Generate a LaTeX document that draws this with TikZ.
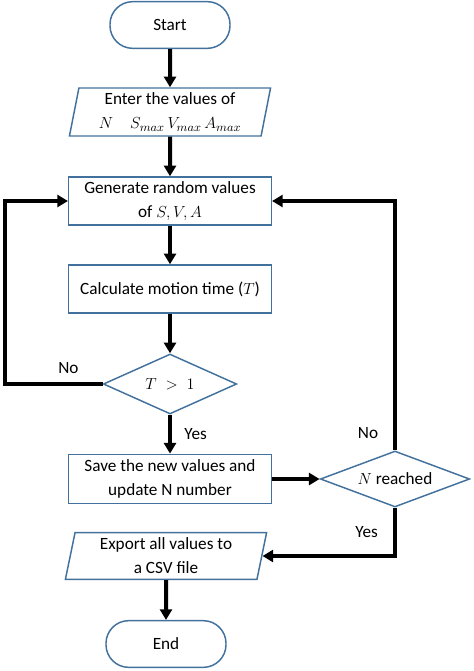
\documentclass[tikz,border=0pt]{standalone}
\usepackage{fontspec}
\setmainfont{Carlito}
\usetikzlibrary{shapes.geometric,arrows.meta}
\definecolor{boxblue}{RGB}{65,113,156}

\begin{document}
\begin{tikzpicture}[x=0.75pt,y=-0.75pt,font=\fontsize{12.9}{18}\selectfont]% 1 unit = 1px
\useasboundingbox (0,0) rectangle (474,671);
\tikzstyle{every node}=[align=center,text=black]
\tikzstyle{term}=[draw=boxblue,line width=1.1pt,rectangle,rounded corners=17pt,minimum width=90pt,minimum height=35pt]
\tikzstyle{io}=[draw=boxblue,line width=1.1pt,trapezium,trapezium left angle=80,trapezium right angle=100,trapezium stretches=true,minimum width=151pt,minimum height=36pt,inner sep=2pt]
\tikzstyle{proc}=[draw=boxblue,line width=1.1pt,rectangle,minimum width=152pt,minimum height=36pt,inner sep=2pt]
\tikzstyle{dec}=[draw=boxblue,line width=1.1pt,diamond,aspect=2.4,inner sep=0pt]
\tikzstyle{flow}=[line width=3pt,-{Triangle[length=8pt,width=9pt]}]

% main column
\node[term] (start) at (170,25) {Start};
\node[io] (input) at (170,112) {Enter the values of\\$N\quad S_{max}\,V_{max}\,A_{max}$};
\node[proc] (gen) at (170,201) {Generate random values\\of $S,V,A$};
\node[proc] (calc) at (170,289) {Calculate motion time ($T$)};
\node[dec,minimum width=100pt,minimum height=45pt] (cond) at (170,384) {$T\;>\;1$};
\node[proc,minimum height=37pt] (save) at (170,479) {Save the new values and\\update N number};
\node[io,minimum height=35pt] (export) at (166,556) {Export all values to\\a CSV file};
\node[term] (end) at (166,644) {End};

% right column
\node[dec,minimum width=112pt,minimum height=42pt] (reach) at (395,479) {$N$ reached};

\coordinate (lft) at (5,384);

\draw[flow] (start) -- (input);
\draw[flow] (input) -- (gen);
\draw[flow] (gen) -- (calc);
\draw[flow] (calc) -- (cond);
\draw[flow] (cond) -- node[right=6pt] {Yes} (save);
\draw[flow] (save) -- (reach);
\draw[flow] (export) -- (end);

% loops
\draw[flow] (cond.west) -- node[above=3pt,pos=0.35] {No} (lft) |- (gen.west);
\draw[flow] (reach.north) |- (gen.east);
\node (noright) at (368,433) {No};
\draw[flow] (reach.south) |- node[pos=0.25,left=8pt] {Yes} (export.east);

\end{tikzpicture}
\end{document}
